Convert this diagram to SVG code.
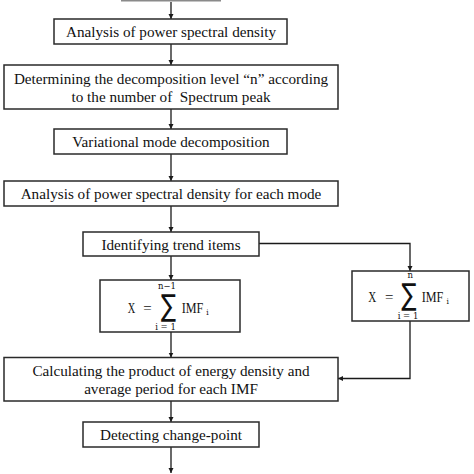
<svg xmlns="http://www.w3.org/2000/svg" width="474" height="474" viewBox="0 0 474 474">
<defs>
<marker id="ah" markerWidth="6" markerHeight="6" refX="5" refY="3" orient="auto" markerUnits="userSpaceOnUse">
<path d="M0,0.5 L5,3 L0,5.5 Z" fill="#1a1a1a"/>
</marker>
<style>
.box{fill:#fff;stroke:#2a2a2a;stroke-width:1.5}
.t{font-family:"Liberation Serif","Times New Roman",serif;font-size:15.2px;fill:#111;text-anchor:middle;white-space:pre}
.m{font-family:"Liberation Serif","DejaVu Serif",serif;font-size:14px;fill:#111}
.s{font-family:"DejaVu Serif",serif;font-size:8.5px;fill:#111;text-anchor:middle}
.sig{font-family:"DejaVu Sans",sans-serif;font-size:30px;fill:#111;text-anchor:middle}
.c{fill:none;stroke:#1a1a1a;stroke-width:1.3}
</style>
</defs>
<rect width="474" height="474" fill="#fff"/>
<g id="connectors">
<line class="c" x1="171" y1="2" x2="171" y2="19" marker-end="url(#ah)"/>
<line class="c" x1="171" y1="44" x2="171" y2="65" marker-end="url(#ah)"/>
<line class="c" x1="171" y1="109" x2="171" y2="129" marker-end="url(#ah)"/>
<line class="c" x1="171" y1="154" x2="171" y2="181" marker-end="url(#ah)"/>
<line class="c" x1="171" y1="206" x2="171" y2="232" marker-end="url(#ah)"/>
<line class="c" x1="171" y1="256" x2="171" y2="280" marker-end="url(#ah)"/>
<polyline class="c" points="259,243.5 410,243.5 410,271" marker-end="url(#ah)"/>
<line class="c" x1="171" y1="332" x2="171" y2="357.5" marker-end="url(#ah)"/>
<polyline class="c" points="410,321 410,378.5 338,378.5" marker-end="url(#ah)"/>
<line class="c" x1="171" y1="401" x2="171" y2="422" marker-end="url(#ah)"/>
<line class="c" x1="171" y1="447" x2="171" y2="473" marker-end="url(#ah)"/>
</g>
<g id="n0"><rect x="121" y="-1" width="100" height="2.5" fill="#8a8a8a"/></g>
<g id="n1"><rect class="box" x="54" y="19" width="233" height="25"/><text class="t" x="171" y="36.5">Analysis of power spectral density</text></g>
<g id="n2"><rect class="box" x="4" y="65" width="334" height="44"/><text class="t" x="171" y="83.5">Determining the decomposition level “n” according</text><text class="t" x="171" y="101.5">to the number of  Spectrum peak</text></g>
<g id="n3"><rect class="box" x="54" y="129" width="233" height="25"/><text class="t" x="171" y="147">Variational mode decomposition</text></g>
<g id="n4"><rect class="box" x="4" y="181" width="334" height="25"/><text class="t" x="171" y="199">Analysis of power spectral density for each mode</text></g>
<g id="n5"><rect class="box" x="83" y="232" width="176" height="24"/><text class="t" x="171" y="249.5">Identifying trend items</text></g>
<g id="n6"><rect class="box" x="100" y="280" width="140" height="52"/>
<text class="m" x="127.7" y="312.7" textLength="7.5" lengthAdjust="spacingAndGlyphs">X</text>
<text class="m" x="143.3" y="312.7" textLength="8.4" lengthAdjust="spacingAndGlyphs">=</text>
<text class="sig" transform="translate(168.5,316) scale(0.75,1)">∑</text>
<text class="s" x="167" y="288.7">n−1</text><text class="s" x="165.5" y="329.5">i = 1</text>
<text class="m" x="181.7" y="312.7" textLength="21.6" lengthAdjust="spacingAndGlyphs">IMF</text>
<text class="s" x="207.4" y="315" style="font-size:7.5px">i</text></g>
<g id="n7"><rect class="box" x="352" y="271" width="117" height="50"/>
<text class="m" x="368.3" y="301.8" textLength="8" lengthAdjust="spacingAndGlyphs">X</text>
<text class="m" x="385" y="301.8" textLength="8.4" lengthAdjust="spacingAndGlyphs">=</text>
<text class="sig" transform="translate(409,305) scale(0.75,1)">∑</text>
<text class="s" x="410.3" y="277.5">n</text><text class="s" x="408" y="318.5">i = 1</text>
<text class="m" x="421.7" y="301.8" textLength="21.6" lengthAdjust="spacingAndGlyphs">IMF</text>
<text class="s" x="447.6" y="304.2" style="font-size:7.5px">i</text></g>
<g id="n8"><rect class="box" x="4" y="357.5" width="334" height="43.5"/><text class="t" x="171" y="375.5">Calculating the product of energy density and</text><text class="t" x="171" y="394">average period for each IMF</text></g>
<g id="n9"><rect class="box" x="83" y="422" width="176" height="25"/><text class="t" x="171" y="440">Detecting change-point</text></g>
</svg>
